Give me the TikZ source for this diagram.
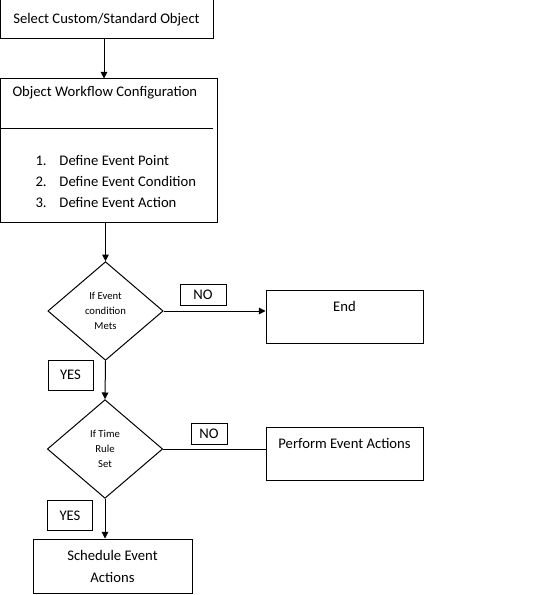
\documentclass[tikz,border=0pt]{standalone}
\usepackage{fontspec}
\setmainfont{Carlito}
\usetikzlibrary{shapes.geometric,arrows.meta}
\tikzset{
	box/.style={draw, rectangle, inner sep=0pt, align=center, font=\fontsize{11}{15}\selectfont},
	tag/.style={draw, rectangle, inner sep=0pt, minimum width=33.75pt, minimum height=22.5pt, font=\fontsize{11}{13}\selectfont},
	test/.style={draw, diamond, inner sep=0pt, align=center, minimum width=86.5pt, minimum height=74pt, font=\fontsize{8}{11.25}\selectfont},
	flow/.style={-{Triangle[length=5pt,width=5pt]}}
}

\begin{document}
\begin{tikzpicture}[x=0.75pt, y=-0.75pt, line width=0.75pt]
				\useasboundingbox (0,0) rectangle (542,595);
				
				\node[box, minimum width=159.75pt, minimum height=29.25pt] (select) at (106.5,19.5) {Select Custom/Standard Object};
				
				\node[box, minimum width=162.75pt, minimum height=107.25pt] (config) at (108.5,150.5) {};
				\node[anchor=west, inner sep=0pt, font=\fontsize{11}{15}\selectfont] (configtitle) at (12,93) {Object Workflow Configuration};
				\draw (config.west |- 0,129) -- (213,129);
				\node[anchor=west, inner sep=0pt, align=left, font=\fontsize{11}{15.4}\selectfont] (steps) at (35,181.5)
					{\makebox[18pt][l]{1.}Define Event Point\\ \makebox[18pt][l]{2.}Define Event Condition\\ \makebox[18pt][l]{3.}Define Event Action};
				
				\node[test] (condition) at (105.5,311) {If Event\\condition\\Mets};
				\node[tag, minimum width=34.5pt, minimum height=15.75pt] (no1) at (203,294.5) {NO};
				\node[box, minimum width=117.75pt, minimum height=39.75pt] (end) at (344.5,316.5) {End\\~};
				\node[tag] (yes1) at (70.5,375) {YES};
				
				\node[test] (timerule) at (105,449) {If Time\\Rule\\Set};
				\node[tag, minimum width=27pt, minimum height=15.75pt] (no2) at (209,433.5) {NO};
				\node[box, minimum width=117.75pt, minimum height=39.75pt] (perform) at (344.5,453.5) {Perform Event Actions\\~};
				\node[tag] (yes2) at (70,515.5) {YES};
				
				\node[box, minimum width=119.25pt, minimum height=40.5pt] (schedule) at (112.5,566) {Schedule Event\\[1.5pt]Actions};
				
				\draw[flow] (select.south -| 104,0) -- (config.north -| 104,0);
				\draw[flow] (config.south -| condition.north) -- (condition.north);
				\draw[flow] (condition.east) -- (condition.east -| end.west);
				\draw[flow] (condition.south) -- (timerule.north);
				\draw (timerule.east) -- (timerule.east -| perform.west);
				\draw[flow] (timerule.south) -- (timerule.south |- schedule.north);
			\end{tikzpicture}
\end{document}
